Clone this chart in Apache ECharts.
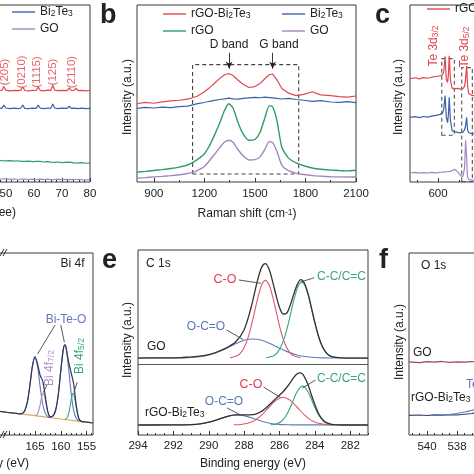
<!DOCTYPE html>
<html>
<head>
<meta charset="utf-8">
<script src="https://cdn.jsdelivr.net/npm/echarts@6.0.0/dist/echarts.min.js"></script>
<style>
html, body { margin: 0; padding: 0; background: #fff; }
#main { width: 474px; height: 474px; }
</style>
</head>
<body>
<div id="main"></div>
<script>
// ---------- a : XRD (2theta, intensity in % of panel height) ----------
var a_x = [40, 41.5, 43, 44.5, 46, 47.5, 48.5, 49.2, 49.9, 51.5, 53, 54.5, 55.3, 56, 56.7, 58, 59.5, 60.8, 61.5, 62.2, 63.5, 65, 66, 66.7, 67.4, 68.5, 70, 71.9, 72.6, 73.3, 74.3, 75, 75.7, 77, 78.5, 80];
var a_rgo_bt = [51.5, 51.9, 51.4, 51.8, 51.6, 51.9, 51.7, 54.0, 51.9, 51.5, 51.8, 51.6, 51.9, 53.8, 51.7, 51.5, 51.8, 51.7, 53.7, 51.8, 51.5, 51.9, 51.7, 54.7, 51.9, 51.6, 51.8, 51.6, 53.2, 51.7, 51.8, 53.0, 51.6, 51.8, 51.5, 51.7];
var a_bt = [41.5, 41.8, 41.4, 41.7, 41.6, 41.8, 41.6, 43.4, 41.8, 41.5, 41.7, 41.5, 41.8, 43.5, 41.6, 41.5, 41.7, 41.6, 43.5, 41.7, 41.5, 41.8, 41.6, 44.1, 41.8, 41.5, 41.7, 41.6, 42.9, 41.6, 41.7, 42.8, 41.5, 41.7, 41.5, 41.6];
var a_rgo = [12.4, 12.6, 12.2, 12.5, 12.1, 12.3, 12.0, 12.2, 11.9, 12.1, 11.8, 12.0, 11.7, 11.9, 11.6, 11.8, 11.5, 11.7, 11.4, 11.6, 11.3, 11.5, 11.2, 11.4, 11.1, 11.3, 11.0, 11.2, 10.9, 11.1, 10.8, 11.0, 10.7, 10.9, 10.6, 10.8];
var a_go = [1.8, 1.5, 1.9, 1.6, 1.8, 1.5, 1.7, 1.6, 1.8, 1.5, 1.7, 1.4, 1.6, 1.5, 1.7, 1.4, 1.6, 1.3, 1.5, 1.6, 1.4, 1.6, 1.3, 1.5, 1.4, 1.6, 1.3, 1.5, 1.4, 1.3, 1.5, 1.2, 1.4, 1.3, 1.2, 1.3];
var a_peaks = ['(205)', '(0210)', '(1115)', '(125)', '(2110)'];
var a_ticks = [40, 50, 60, 70, 80];

// ---------- b : Raman ----------
var b_x = [800, 850, 900, 950, 1000, 1050, 1100, 1130, 1160, 1200, 1230, 1260, 1290, 1320, 1345, 1370, 1400, 1430, 1465, 1500, 1530, 1560, 1585, 1605, 1630, 1660, 1700, 1745, 1790, 1840, 1890, 1950, 2000, 2050, 2100];
var b_rgo_bt = [44.2, 45.0, 44.5, 45.3, 45.8, 46.2, 46.8, 47.6, 48.6, 51.0, 53.2, 55.8, 58.4, 60.6, 61.3, 60.2, 57.5, 55.2, 53.4, 53.9, 55.6, 58.5, 60.6, 61.0, 57.8, 52.8, 50.2, 48.8, 49.5, 51.0, 49.2, 48.8, 48.2, 48.0, 48.6];
var b_bt = [41.6, 42.2, 41.8, 42.3, 42.0, 42.6, 42.9, 43.6, 44.3, 44.9, 45.6, 46.1, 46.6, 47.0, 47.4, 47.0, 46.8, 47.2, 47.5, 47.8, 47.6, 47.9, 47.7, 47.5, 47.2, 46.9, 47.2, 46.6, 46.2, 45.5, 46.0, 45.2, 45.0, 45.4, 44.8];
var b_rgo = [5.6, 6.0, 6.5, 7.0, 7.6, 8.4, 9.6, 11.0, 12.8, 16.0, 20.5, 26.5, 33.0, 40.5, 44.2, 41.8, 33.5, 27.2, 23.6, 24.0, 28.0, 36.5, 43.0, 42.5, 35.0, 19.5, 13.5, 10.8, 9.2, 7.9, 7.2, 6.8, 6.5, 6.3, 6.6];
var b_go = [2.2, 2.5, 2.9, 3.2, 3.6, 4.1, 4.8, 5.4, 6.6, 8.8, 12.0, 15.6, 19.3, 22.6, 23.6, 22.4, 18.2, 14.8, 12.4, 12.6, 14.2, 18.6, 22.8, 22.4, 17.4, 9.4, 6.4, 5.0, 4.2, 3.6, 3.3, 3.0, 2.9, 2.8, 2.8];
var b_ticks = [900, 1200, 1500, 1800, 2100];
var b_band_pos = [1347, 1605];

// ---------- c : XPS survey ----------
var c_x = [667, 655, 645, 635, 625, 615, 605, 595, 589, 586, 583, 580, 577, 575, 573, 570, 566, 560, 552, 545, 540, 536, 533.5, 531, 529, 526, 522, 518, 512, 500];
var c_rgo_bt = [58.4, 58.9, 58.3, 59.0, 58.6, 59.2, 59.6, 60.0, 60.6, 62.5, 71.0, 58.0, 56.2, 60.5, 71.3, 57.5, 53.0, 52.6, 52.9, 52.5, 52.8, 54.0, 58.5, 65.7, 55.0, 50.0, 49.2, 48.9, 48.7, 48.8];
var c_bt = [36.5, 36.9, 36.4, 37.0, 36.7, 37.2, 37.6, 38.2, 39.0, 41.5, 48.9, 36.5, 33.5, 38.0, 47.8, 34.5, 29.0, 28.3, 28.0, 27.8, 28.2, 29.5, 32.0, 36.5, 29.5, 27.8, 27.5, 27.3, 27.2, 27.4];
var c_go = [5.1, 5.4, 5.0, 5.3, 5.1, 5.4, 5.2, 5.5, 5.6, 5.6, 5.7, 5.7, 5.8, 5.8, 5.9, 6.0, 6.3, 7.2, 5.6, 3.5, 3.2, 8.0, 23.6, 14.0, 3.0, 1.5, 1.2, 1.1, 1.1, 1.0];
var c_ticks = [600, 400];

// ---------- d : Bi 4f ----------
var d_x = [174, 172, 171, 170, 169, 168, 167.5, 167, 166.5, 166, 165.5, 165, 164.5, 164, 163.5, 163, 162.5, 162, 161.5, 161, 160.5, 160, 159.5, 159.2, 159, 158.5, 158, 157.5, 157, 156.5, 156, 155, 154, 153.7];
var d_sum = [13.7, 13.0, 12.7, 12.3, 12.0, 11.6, 11.8, 13.3, 17.9, 27.1, 37.9, 42.9, 38.8, 32.8, 29.6, 21.3, 12.7, 10.0, 10.5, 13.6, 21.7, 35.2, 47.2, 49.6, 48.4, 40.5, 34.4, 28.2, 16.5, 9.2, 7.5, 7.1, 6.7, 6.6];
var d_bg_x = [174, 170, 165, 160, 155, 153.7];
var d_bg = [13.7, 12.3, 10.6, 8.8, 7.1, 6.6];
var d_o1_x = [168, 167.5, 167, 166.5, 166, 165.5, 165, 164.5, 164, 163.5, 163, 162.5, 162];
var d_o1 = [11.6, 11.8, 13.3, 17.9, 27.1, 37.9, 42.9, 37.5, 26.5, 16.9, 11.9, 10.1, 9.6];
var d_o2_x = [162.5, 162, 161.5, 161, 160.5, 160, 159.5, 159.2, 159, 158.5, 158, 157.5, 157, 156.5, 156];
var d_o2 = [9.7, 9.8, 10.5, 13.6, 21.7, 35.2, 47.2, 49.6, 48.4, 37.5, 23.4, 13.5, 9.2, 7.9, 7.4];
var d_72_x = [165, 164.5, 164, 163.7, 163.4, 163.1, 162.8, 162.3, 161.8];
var d_72 = [10.7, 11.6, 16.6, 21.1, 23.0, 20.8, 16.1, 10.8, 9.6];
var d_52_x = [159.2, 158.7, 158.2, 157.9, 157.6, 157.3, 157.0, 156.5, 156.0];
var d_52 = [8.7, 9.7, 15.5, 20.6, 23.0, 20.4, 15.1, 8.9, 7.5];
var d_ticks = [155, 160, 165];

// ---------- e : C 1s ----------
var e_go_x = [294, 293, 292, 291.5, 291, 290.5, 290, 289.5, 289, 288.5, 288, 287.6, 287.4, 287.2, 287, 286.8, 286.6, 286.4, 286.2, 286, 285.8, 285.6, 285.4, 285.2, 285, 284.8, 284.6, 284.4, 284.2, 284, 283.8, 283.6, 283.4, 283.2, 283, 282.5, 282, 281];
var e_go_sum = [41.6, 41.7, 41.7, 41.9, 42.2, 42.6, 43.4, 45.0, 47.1, 50.1, 56.9, 69.2, 77.4, 85.2, 90.9, 92.6, 89.8, 83.3, 75.6, 68.9, 65.4, 65.8, 70.0, 76.0, 81.3, 84.0, 82.2, 76.8, 68.9, 60.7, 53.5, 48.2, 44.9, 43.1, 42.2, 41.7, 41.6, 41.6];
var e_go_occ_x = [294, 292, 291.5, 291, 290.5, 290, 289.5, 289, 288.5, 288, 287.5, 287, 286.5, 286, 285.5, 285, 284.5, 284, 283.5, 283, 281];
var e_go_occ = [41.6, 41.6, 41.7, 41.9, 42.3, 43.2, 44.8, 46.9, 49.3, 51.2, 51.9, 51.2, 49.3, 46.9, 44.8, 43.2, 42.3, 41.9, 41.7, 41.6, 41.6];
var e_go_co_x = [288.8, 288.4, 288.2, 288, 287.8, 287.6, 287.4, 287.2, 287, 286.8, 286.6, 286.4, 286.2, 286, 285.8, 285.6, 285.4, 285.2, 284.8];
var e_go_co = [41.8, 42.8, 44.4, 47.3, 52.1, 58.9, 67.1, 75.2, 81.3, 83.6, 81.3, 75.2, 67.1, 58.9, 52.1, 47.3, 44.4, 42.8, 41.8];
var e_go_cc_x = [286.75, 286.35, 286.15, 285.95, 285.75, 285.55, 285.35, 285.15, 284.95, 284.75, 284.55, 284.35, 284.15, 283.95, 283.75, 283.55, 283.35, 283.15, 282.75];
var e_go_cc = [41.8, 42.7, 44.3, 47.1, 51.8, 58.5, 66.5, 74.4, 80.4, 82.6, 80.4, 74.4, 66.5, 58.5, 51.8, 47.1, 44.3, 42.7, 41.8];
var e_bt_x = [294, 293, 292, 291.5, 291, 290.5, 290, 289.5, 289, 288.5, 288, 287.5, 287, 286.6, 286.2, 285.8, 285.5, 285.2, 285, 284.8, 284.6, 284.4, 284.2, 284, 283.8, 283.6, 283.4, 283.2, 283, 282.5, 282, 281];
var e_bt_sum = [5.4, 5.4, 5.5, 5.5, 5.6, 6.0, 6.9, 8.3, 9.9, 10.9, 10.9, 11.0, 12.9, 16.1, 19.8, 23.4, 26.9, 31.0, 33.1, 33.6, 31.6, 27.4, 21.8, 16.3, 11.8, 8.7, 7.0, 6.1, 5.6, 5.4, 5.4, 5.4];
var e_bt_occ_x = [294, 291.4, 290.9, 290.4, 289.9, 289.4, 288.9, 288.4, 287.9, 287.4, 286.9, 286.4, 285.9, 285.4, 281];
var e_bt_occ = [5.4, 5.5, 5.6, 6.1, 7.2, 8.7, 10.2, 10.8, 10.2, 8.7, 7.2, 6.1, 5.6, 5.5, 5.4];
var e_bt_co_x = [288.6, 288.2, 287.8, 287.4, 287.0, 286.6, 286.2, 285.8, 285.4, 285.0, 284.6, 284.2, 283.8, 283.4, 283.0];
var e_bt_co = [5.5, 5.7, 6.3, 7.9, 10.9, 15.0, 18.8, 20.4, 18.8, 15.0, 10.9, 7.9, 6.3, 5.7, 5.5];
var e_bt_cc_x = [286.5, 286.2, 285.9, 285.6, 285.3, 285.0, 284.7, 284.4, 284.1, 283.8, 283.5, 283.2, 282.9];
var e_bt_cc = [5.5, 5.9, 7.3, 10.9, 17.0, 23.5, 26.4, 23.5, 17.0, 10.9, 7.3, 5.9, 5.5];
var e_split = 38.4;
var e_ticks = [294, 292, 290, 288, 286, 284, 282];

// ---------- f : O 1s ----------
var f_x = [541.2, 540.5, 540, 539.5, 539, 538.5, 538, 537.5, 537, 536.5, 536, 535, 533];
var f_go = [40.2, 39.8, 40.3, 40.0, 40.4, 39.9, 40.2, 40.0, 40.3, 40.1, 40.2, 40.0, 40.1];
var f_bt = [10.8, 11.0, 10.7, 11.1, 10.9, 11.2, 11.0, 11.4, 11.8, 12.5, 13.3, 15.0, 18.0];
var f_teo_x = [539.5, 539, 538.5, 538, 537.5, 537, 536.5, 536];
var f_teo = [10.9, 11.0, 11.3, 11.8, 12.6, 13.6, 14.9, 16.4];
var f_ticks = [540, 538, 536, 534];

var FONT = '"Liberation Sans", Arial, Helvetica, sans-serif';
var INK = '#222';
var RED = '#e2464e', BLUE = '#3b62a9', GREEN = '#2e9c6b', PURPLE = '#a486c5';
var RICH = {
    s: { fontSize: 8.5, verticalAlign: 'bottom', fontFamily: FONT },
    u: { fontSize: 8.5, verticalAlign: 'top', fontFamily: FONT }
};

var CHART = {
    init: function(){
        var _this = this;
        var myChart = echarts.init(document.getElementById('main'));
        myChart.setOption(_this.build_option());
    },
    zip: function(xs, ys){
        var out = [];
        for (var i = 0; i < xs.length; i++) out.push([xs[i], ys[i]]);
        return out;
    },
    minors: function(from, to, step, major){
        // small ticks between the labelled ones
        var out = [];
        for (var v = from; v <= to + 1e-6; v += step){
            var r = Math.round(v * 100) / 100;
            if (Math.abs(r / major - Math.round(r / major)) > 1e-6) out.push(r);
        }
        return out;
    },
    x_axes: function(gi, min, max, inverse, labels, ticks, minor, margin){
        return [{
            gridIndex: gi, type: 'value', position: 'bottom', min: min, max: max, inverse: inverse,
            axisLine: { show: false }, splitLine: { show: false },
            axisTick: { show: true, inside: true, length: 4, customValues: ticks, lineStyle: { color: '#333' } },
            axisLabel: {
                customValues: labels, margin: margin, fontSize: 11.5, color: INK, fontFamily: FONT,
                formatter: function(v){ return String(v); }
            }
        }, {
            gridIndex: gi, type: 'value', position: 'bottom', min: min, max: max, inverse: inverse,
            axisLine: { show: false }, splitLine: { show: false }, axisLabel: { show: false },
            axisTick: { show: true, inside: true, length: 2, customValues: minor, lineStyle: { color: '#333' } }
        }];
    },
    line: function(name, gi, data, color, width, smooth){
        return {
            type: 'line', name: name, xAxisIndex: gi * 2, yAxisIndex: gi, data: data,
            symbol: 'none', smooth: smooth || false, silent: true,
            lineStyle: { color: color, width: width }, itemStyle: { color: color }
        };
    },
    leaders: function(color, pairs, arrow){
        var data = [];
        pairs.forEach(function(p){ data.push([{ coord: p[0] }, { coord: p[1] }]); });
        return {
            silent: true, animation: false, symbol: arrow ? ['none', 'arrow'] : ['none', 'none'], symbolSize: [5, 7],
            label: { show: false }, lineStyle: { color: color, width: 0.9, type: 'solid' }, data: data
        };
    },
    text: function(x, y, str, o){
        o = o || {};
        return {
            type: 'text', x: x, y: y, rotation: o.rot || 0, silent: true, z: 100,
            style: {
                text: str, fill: o.color || INK, fontSize: o.size || 12, fontWeight: o.weight || 'normal',
                fontFamily: FONT, align: o.align || 'center', verticalAlign: 'middle', rich: RICH
            }
        };
    },
    build_option: function(){
        var _this = this;
        var frame = { show: true, borderColor: '#3a3a3a', borderWidth: 1, backgroundColor: 'rgba(0,0,0,0)', outerBoundsMode: 'none' };
        var boxes = [
            { left: -22, top: 5, width: 112, height: 177 },
            { left: 137, top: 5, width: 219, height: 177 },
            { left: 410, top: 5, width: 200, height: 177 },
            { left: -10, top: 253, width: 103, height: 182 },
            { left: 138, top: 250, width: 230, height: 185 },
            { left: 409, top: 253, width: 150, height: 182 }
        ];
        var grids = boxes.map(function(b){ return Object.assign({}, frame, b); });

        var xAxis = [].concat(
            _this.x_axes(0, 40, 80, false, a_ticks, a_ticks, _this.minors(40, 80, 2, 10), 6),
            _this.x_axes(1, 800, 2100, false, b_ticks, b_ticks, _this.minors(750, 2100, 150, 300), 6),
            _this.x_axes(2, 185.6, 667.5, true, c_ticks, c_ticks, _this.minors(200, 650, 50, 200), 6),
            _this.x_axes(3, 153.74, 173.74, true, d_ticks, d_ticks.concat([170]), _this.minors(154, 173, 1, 5), 6),
            _this.x_axes(4, 281, 294, true, e_ticks, e_ticks, _this.minors(281, 294, 0.5, 2), 5),
            _this.x_axes(5, 531.2, 541.2, true, f_ticks, f_ticks, _this.minors(532, 541, 0.5, 2), 6)
        );
        var yAxis = boxes.map(function(b, i){ return { gridIndex: i, type: 'value', min: 0, max: 100, show: false }; });

        var z = _this.zip;
        var series = [];
        // a
        series.push(_this.line('rGO-Bi2Te3', 0, z(a_x, a_rgo_bt), RED, 1.2));
        series.push(_this.line('Bi2Te3', 0, z(a_x, a_bt), BLUE, 1.2));
        series.push(_this.line('rGO', 0, z(a_x, a_rgo), GREEN, 1.2));
        series.push(_this.line('GO', 0, z(a_x, a_go), PURPLE, 1.2));
        // b
        var b_red = _this.line('rGO-Bi2Te3', 1, z(b_x, b_rgo_bt), RED, 1.2);
        b_red.markArea = {
            silent: true, label: { show: false },
            itemStyle: { color: 'rgba(0,0,0,0)', borderColor: '#444', borderWidth: 1.1, borderType: [4, 3] },
            data: [[{ coord: [1130, 4.5] }, { coord: [1760, 66.3] }]]
        };
        b_red.markLine = _this.leaders('#222', [[[b_band_pos[0], 73], [b_band_pos[0], 64]], [[b_band_pos[1], 73], [b_band_pos[1], 64]]], true);
        series.push(b_red);
        series.push(_this.line('Bi2Te3', 1, z(b_x, b_bt), BLUE, 1.2));
        series.push(_this.line('rGO', 1, z(b_x, b_rgo), GREEN, 1.4, 0.2));
        series.push(_this.line('GO', 1, z(b_x, b_go), PURPLE, 1.4, 0.2));
        // c
        var c_red = _this.line('rGO-Bi2Te3', 2, z(c_x, c_rgo_bt), RED, 1.2);
        c_red.markArea = {
            silent: true, label: { show: false },
            itemStyle: { color: 'rgba(0,0,0,0)', borderColor: '#555', borderWidth: 1.1, borderType: [4, 3] },
            data: [[{ coord: [591, 26.4] }, { coord: [560.7, 69.7] }], [{ coord: [542.9, 0.3] }, { coord: [517.3, 64.6] }]]
        };
        series.push(c_red);
        series.push(_this.line('Bi2Te3', 2, z(c_x, c_bt), BLUE, 1.2));
        series.push(_this.line('GO', 2, z(c_x, c_go), PURPLE, 1.2));
        // d
        series.push(_this.line('bg', 3, z(d_bg_x, d_bg), '#d2b061', 1.2, 0.3));
        series.push(_this.line('BiTeO1', 3, z(d_o1_x, d_o1), '#6276b9', 1.1, 0.3));
        series.push(_this.line('BiTeO2', 3, z(d_o2_x, d_o2), '#6276b9', 1.1, 0.3));
        series.push(_this.line('Bi72', 3, z(d_72_x, d_72), '#a989cb', 1.1, 0.3));
        series.push(_this.line('Bi52', 3, z(d_52_x, d_52), '#36a57f', 1.1, 0.3));
        var d_env = _this.line('dsum', 3, z(d_x, d_sum), '#2f3458', 1.2, 0.3);
        d_env.markLine = _this.leaders('#444', [
            [[161.1, 60.4], [164.5, 44.5]], [[160.0, 60.4], [159.3, 51]],
            [[162.7, 27.5], [163.35, 23.5]], [[156.8, 29], [157.4, 23.8]]
        ]);
        series.push(d_env);
        // e
        series.push(_this.line('GO-OCO', 4, z(e_go_occ_x, e_go_occ), '#5f7cbb', 1.1, 0.3));
        series.push(_this.line('GO-CO', 4, z(e_go_co_x, e_go_co), '#e3566a', 1.1, 0.3));
        series.push(_this.line('GO-CC', 4, z(e_go_cc_x, e_go_cc), '#3aa57a', 1.1, 0.3));
        series.push(_this.line('BT-OCO', 4, z(e_bt_occ_x, e_bt_occ), '#5f7cbb', 1.1, 0.3));
        series.push(_this.line('BT-CO', 4, z(e_bt_co_x, e_bt_co), '#e3566a', 1.1, 0.3));
        series.push(_this.line('BT-CC', 4, z(e_bt_cc_x, e_bt_cc), '#3aa57a', 1.1, 0.3));
        var e_go_env = _this.line('GO-sum', 4, z(e_go_x, e_go_sum), '#333', 1.3, 0.3);
        e_go_env.markLine = _this.leaders('#444', [
            [[288.3, 83.8], [287.05, 82]], [[284.8, 82.7], [284.05, 85]], [[289.0, 56.8], [288.05, 51.6]],
            [[294, e_split], [281, e_split]]
        ]);
        series.push(e_go_env);
        var e_bt_env = _this.line('BT-sum', 4, z(e_bt_x, e_bt_sum), '#333', 1.3, 0.3);
        e_bt_env.markLine = _this.leaders('#444', [
            [[286.9, 25.9], [285.95, 20.3]], [[284.7, 25.4], [283.97, 29.7]], [[288.96, 14.6], [288.2, 10.8]]
        ]);
        series.push(e_bt_env);
        // f
        series.push(_this.line('f-GO', 5, z(f_x, f_go), '#9a4866', 1.2));
        series.push(_this.line('f-BT', 5, z(f_x, f_bt), '#33406e', 1.2));
        series.push(_this.line('f-TeO', 5, z(f_teo_x, f_teo), '#5f7cbb', 1.1, 0.3));

        var legend_base = {
            icon: 'rect', itemWidth: 23, itemHeight: 1.4, itemGap: 0, padding: 0, selectedMode: false,
            textStyle: { fontSize: 12, color: INK, fontFamily: FONT, rich: RICH },
            formatter: function(name){ return name.replace(/(\d)/g, '{s|$1}'); }
        };
        var legend = [
            { data: ['Bi2Te3'], left: 12, top: 6 },
            { data: ['GO'], left: 12, top: 23 },
            { data: ['rGO-Bi2Te3'], left: 163, top: 8 },
            { data: ['Bi2Te3'], left: 282, top: 8 },
            { data: ['rGO'], left: 163, top: 25 },
            { data: ['GO'], left: 282, top: 25 },
            { data: ['rGO-Bi2Te3'], left: 427, top: 3 }
        ].map(function(l){ return Object.assign({}, legend_base, l); });

        var t = _this.text;
        var V = Math.PI / 2;
        var peak_x = [5, 22, 37, 53, 72];
        var graphic = [
            t(100, 15.5, 'b', { size: 27, weight: 'bold', align: 'left' }),
            t(375, 15.5, 'c', { size: 27, weight: 'bold', align: 'left' }),
            t(102, 260.5, 'e', { size: 27, weight: 'bold', align: 'left' }),
            t(379, 260.5, 'f', { size: 27, weight: 'bold', align: 'left' }),
            t(16, 213, '2\u03b8 (degree)', { align: 'right' }),
            t(247, 214, 'Raman shift (cm{u|-1})'),
            t(29, 464, 'Binding energy (eV)', { align: 'right' }),
            t(253, 464, 'Binding energy (eV)'),
            t(128, 97, 'Intensity (a.u.)', { rot: V }),
            t(399, 97, 'Intensity (a.u.)', { rot: V }),
            t(128, 340, 'Intensity (a.u.)', { rot: V }),
            t(400, 342, 'Intensity (a.u.)', { rot: V }),
            t(229, 45, 'D band'),
            t(279, 45, 'G band'),
            t(434, 46, 'Te 3d{s|3/2}', { rot: V, color: RED }),
            t(465, 47, 'Te 3d{s|5/2}', { rot: V, color: RED }),
            t(72.5, 264, 'Bi 4f'),
            t(66, 320, 'Bi-Te-O', { color: '#6677bb' }),
            t(50, 368, 'Bi 4f{s|7/2}', { rot: V, color: '#ad8fd0' }),
            t(80, 356, 'Bi 4f{s|5/2}', { rot: V, color: '#36a57f' }),
            t(146, 264, 'C 1s', { align: 'left' }),
            t(225, 280, 'C-O', { color: '#e23b4e', size: 12.5 }),
            t(317, 277, 'C-C/C=C', { align: 'left', color: '#3aa57a' }),
            t(206, 327, 'O-C=O', { color: '#5a78b8' }),
            t(147, 347, 'GO', { align: 'left' }),
            t(251, 385, 'C-O', { color: '#e23b4e', size: 12.5 }),
            t(317, 379, 'C-C/C=C', { align: 'left', color: '#3aa57a' }),
            t(224, 402, 'O-C=O', { color: '#5a78b8' }),
            t(145, 413, 'rGO-Bi{s|2}Te{s|3}', { align: 'left' }),
            t(421, 266, 'O 1s', { align: 'left' }),
            t(413, 353, 'GO', { align: 'left' }),
            t(411, 398, 'rGO-Bi{s|2}Te{s|3}', { align: 'left' }),
            t(466, 385, 'Te-O', { align: 'left', color: '#5a78b8' }),
            // axis break marks on panel d
            { type: 'line', silent: true, z: 100, shape: { x1: 0, y1: 256, x2: 4, y2: 249 }, style: { stroke: '#333', lineWidth: 1 } },
            { type: 'line', silent: true, z: 100, shape: { x1: 3, y1: 256, x2: 7, y2: 249 }, style: { stroke: '#333', lineWidth: 1 } },
            { type: 'line', silent: true, z: 100, shape: { x1: 0, y1: 438, x2: 4, y2: 431 }, style: { stroke: '#333', lineWidth: 1 } },
            { type: 'line', silent: true, z: 100, shape: { x1: 3, y1: 438, x2: 7, y2: 431 }, style: { stroke: '#333', lineWidth: 1 } }
        ];
        a_peaks.forEach(function(p, i){
            graphic.push(t(peak_x[i], 72, p, { rot: V, color: '#e8636a', size: 11.5 }));
        });

        return {
            animation: false,
            backgroundColor: '#fff',
            grid: grids,
            xAxis: xAxis,
            yAxis: yAxis,
            legend: legend,
            series: series,
            graphic: graphic
        };
    }
};

CHART.init();
</script>
</body>
</html>
